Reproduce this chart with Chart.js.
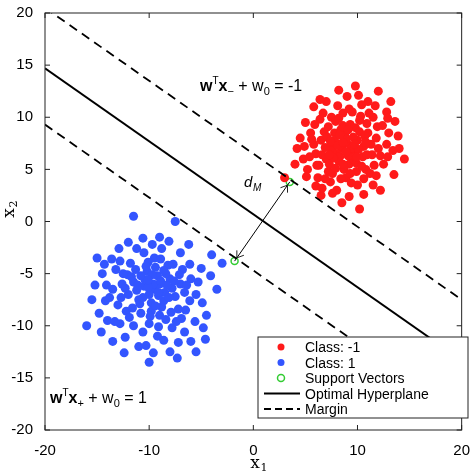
<!DOCTYPE html>
<html>
<head>
<script src="https://cdn.jsdelivr.net/npm/chart.js@4/dist/chart.umd.min.js"></script>
<style>
  body { margin: 0; background: #fff; }
  #wrap { width: 474px; height: 474px; }
</style>
</head>
<body>
<div id="wrap"><canvas id="svm"></canvas></div>
<script>
// data
var redPts = [[8.5,7],[9,7.5],[8,6.5],[7.5,7.2],[9.5,6.8],[8.8,8.2],[8.2,5.8],[7,6],[10,7.8],[9.2,5.5],[7.8,8.5],[10.5,6.2],[6.5,7.8],[8.6,9.2],[9.8,9],[7.2,4.8],[11,8.5],[6,6.5],[10.8,5],[8.9,4.2],[5.5,8.5],[12,7],[7.5,10],[9.5,10.5],[11.5,10],[6.2,4.2],[12.5,5.5],[4.8,6],[10,3.5],[8,3],[13,8.5],[5,9.5],[11,11.5],[7,11.5],[9,12],[12.8,10.5],[14,7],[4,5.5],[6.5,2.5],[11.5,3.5],[3,4.2],[13.5,4.5],[14.5,6],[10.2,1.2],[8.5,1.8],[5.8,11],[12,12.5],[9.8,13],[4.5,8],[13.2,11.5],[7.8,7.8],[8.3,6.2],[9.4,7],[7.6,6.8],[10.2,8.6],[8.4,8.8],[9.6,6],[7.3,5.5],[6.8,8.6],[10.6,7.2],[11.4,6.4],[6.6,6.4],[8.7,5],[9.9,4.8],[7.9,9.6],[10.9,9.4],[11.8,8],[5.8,7.4],[12.4,9.2],[6.4,9.8],[7.4,3.8],[11.2,4.6],[5.2,5],[13.6,9.6],[9.2,10.8],[6,3.4],[12.2,3],[4.2,7],[10.4,11.2],[8.1,7.3],[9.1,6.3],[8.9,7.9],[7.7,6.1],[10.1,6.9],
  [6.9,7.1],[7.1,8.1],[6.3,5.4],[6.9,4.1],[7.6,4.6],[8.4,4.1],[9.4,3.7],[10.6,4.1],[11.6,5.4],[12.2,6.3],[12.8,7.4],[12.9,6.2],[11.9,9.1],[11.1,10.4],[10.3,10.1],[8.6,10.4],[8.1,11.1],[6.7,10.4],[5.9,9.3],[5.6,7.9],[5.4,6.2],[6.1,5.4],[9.9,5.6],[10.9,6.4],[11.3,7.4],[10.7,8.2],[9.6,8.1],[7.2,9.1],[8.2,9.9],[9.3,9.3],[10.2,9.7],[8.9,6.7],[7.9,5.1],[9.3,4.6],[10.4,5.3],[11.8,4.4],[6.6,3.2],[7.6,2.7],[9.2,2.4],[10.6,2.6],[11.7,11.1],[10.1,12.1],[8.2,12.6],[6.4,11.7],[4.9,7.2],[5.1,4.3],[13.4,6.8],[13.9,8.2],[12.9,9.9],[7.3,6.4],[8.6,7.6],[9.7,7.4],[9.9,6.2],[8.6,5.5],[7.4,7.7],[10.8,7.6],[8.3,8.3],[9.1,8.8]];
var bluePts = [[-9.5,-6.5],[-9,-6],[-10,-7],[-10.5,-6.2],[-8.5,-6.8],[-9.2,-5.2],[-9.8,-7.8],[-11,-7.5],[-8,-5.5],[-8.8,-8.2],[-11.5,-5.8],[-7.5,-7.2],[-10.2,-4.8],[-9,-9],[-12,-7],[-7,-6],[-10.8,-8.8],[-8.2,-4.2],[-12.5,-5],[-6.5,-8.5],[-9.5,-3.5],[-11.5,-10],[-7.8,-10.2],[-13,-8],[-6,-5.5],[-10.5,-3],[-12.8,-3.8],[-13.5,-6.5],[-5.5,-7],[-9.2,-11],[-7,-3],[-14,-9.5],[-11,-12],[-8,-12.5],[-14.5,-5],[-5,-4.5],[-4.5,-9],[-12,-2],[-9,-1.5],[-15.5,-7.5],[-3.5,-6.5],[-6,-11.5],[-13.5,-11.5],[-10,-13.5],[-15,-3.5],[-7.5,0],[-11.5,0.5],[-3,-4],[-16,-10],[-5.5,-12.5],[-9.6,-6],[-10.4,-5.6],[-8.6,-7.6],[-9.8,-8.6],[-11.2,-6.6],[-7.8,-6.4],[-10.8,-5.2],[-8.4,-5],[-9.4,-4.4],[-12.2,-8.6],[-7.2,-8.4],[-6.6,-6.8],[-12.6,-6],[-10,-9.8],[-8.4,-9.4],[-11.8,-4],[-6.8,-4.6],[-13.2,-4.6],[-8.8,-2.6],[-4.8,-10.2],[-14.2,-7.6],[-10.6,-1.6],[-6.2,-2.2],[-12.8,-9.8],[-7.2,-11.6],[-4,-3.2],[-14.8,-8.8],[-9.1,-7.1],[-10.1,-6.3],[-8.9,-5.7],[-9.7,-5.1],
  [-11.1,-6.1],[-10.9,-7.9],[-12.7,-7.3],[-12.1,-5.1],[-11.3,-4.6],[-10.1,-3.9],[-8.9,-3.6],[-7.7,-4.1],[-7.1,-5.1],[-6.4,-6.1],[-6.1,-7.6],[-6.9,-9.3],[-7.9,-8.7],[-9.1,-10.1],[-10.6,-10.6],[-11.9,-9.2],[-13.3,-9.6],[-13.8,-7.3],[-14.1,-6.1],[-13.6,-3.6],[-11.2,-2.6],[-9.7,-2.2],[-8.1,-1.9],[-6.1,-4.1],[-5.3,-5.8],[-4.9,-7.8],[-5.6,-9.6],[-6.6,-10.6],[-8.6,-11.4],[-10.3,-11.9],[-12.3,-11.1],[-14.6,-10.6],[-15.2,-6.1],[-14.3,-4.1],[-12.9,-2.6],[-9.6,-12.6],[-7.3,-13.1],[-4.1,-5.2],[-4.6,-11.3],[-12.4,-12.6],[-10.1,-5.6],[-9.1,-6.8],[-8.1,-7.3],[-8.3,-6.1],[-10.6,-7.3],[-11.6,-8.3],[-9.9,-9.1],[-9.4,-8.1],[-7.4,-9.6],[-8.6,-4.7],[-10.3,-4.3],[-11.7,-5.3],[-12.3,-6.4],[-7.6,-5.7]];
var supportVecs = [[3.5,3.8],[-1.8,-3.8]];
var hyperplane = [[-20,14.7],[20,-13.3]];
var marginTop = [[-20,20.5],[20,-7.5]];
var marginBot = [[-20,9.3],[20,-18.7]];
var xTicks = [-20,-10,0,10,20];
var yTicks = [-20,-15,-10,-5,0,5,10,15,20];

var FONT = "'Liberation Sans', Arial, sans-serif";
function pts(a) { return a.map(p => ({x: p[0], y: p[1]})); }

var overlay = {
  id: 'overlay',
  afterDraw(chart) {
    var c = chart.ctx, a = chart.chartArea, xs = chart.scales.x, ys = chart.scales.y;
    c.save();
    // box + inward ticks
    c.strokeStyle = '#222'; c.lineWidth = 1;
    c.strokeRect(a.left, a.top, a.right - a.left, a.bottom - a.top);
    xTicks.forEach(v => {
      var px = xs.getPixelForValue(v);
      c.beginPath(); c.moveTo(px, a.bottom); c.lineTo(px, a.bottom - 5);
      c.moveTo(px, a.top); c.lineTo(px, a.top + 5); c.stroke();
    });
    yTicks.forEach(v => {
      var py = ys.getPixelForValue(v);
      c.beginPath(); c.moveTo(a.left, py); c.lineTo(a.left + 5, py);
      c.moveTo(a.right, py); c.lineTo(a.right - 5, py); c.stroke();
    });
    // arrow heads between support vectors
    var p1 = {x: xs.getPixelForValue(supportVecs[0][0]), y: ys.getPixelForValue(supportVecs[0][1])};
    var p2 = {x: xs.getPixelForValue(supportVecs[1][0]), y: ys.getPixelForValue(supportVecs[1][1])};
    [[p1, p2], [p2, p1]].forEach(function (pr) {
      var ang = Math.atan2(pr[0].y - pr[1].y, pr[0].x - pr[1].x);
      c.beginPath();
      c.moveTo(pr[0].x - 4 * Math.cos(ang), pr[0].y - 4 * Math.sin(ang));
      c.lineTo(pr[0].x - 11 * Math.cos(ang - 0.4), pr[0].y - 11 * Math.sin(ang - 0.4));
      c.moveTo(pr[0].x - 4 * Math.cos(ang), pr[0].y - 4 * Math.sin(ang));
      c.lineTo(pr[0].x - 11 * Math.cos(ang + 0.4), pr[0].y - 11 * Math.sin(ang + 0.4));
      c.stroke();
    });
    // texts
    c.fillStyle = '#000'; c.textBaseline = 'alphabetic';
    function eq(x, y, sub, rhs) {
      c.font = 'bold 16px ' + FONT; c.fillText('w', x, y); x += c.measureText('w').width;
      c.font = '10px ' + FONT; c.fillText('T', x, y - 7); x += c.measureText('T').width;
      c.font = 'bold 16px ' + FONT; c.fillText('x', x, y); x += c.measureText('x').width;
      c.font = '11px ' + FONT; c.fillText(sub, x, y + 4); x += c.measureText(sub).width;
      c.font = '16px ' + FONT; c.fillText(' + w', x, y); x += c.measureText(' + w').width;
      c.font = '11px ' + FONT; c.fillText('0', x, y + 4); x += c.measureText('0').width;
      c.font = '16px ' + FONT; c.fillText(' = ' + rhs, x, y);
    }
    eq(200, 91, '\u2212', '-1');
    eq(50, 403, '+', '1');
    c.font = 'italic 15px ' + FONT; c.fillText('d', 244, 187);
    c.font = 'italic 10px ' + FONT; c.fillText('M', 253, 191);
    // axis titles
    c.font = '17px "DejaVu Serif", serif'; c.textAlign = 'center';
    c.fillText('x', 255, 468); c.font = '11px "DejaVu Serif", serif'; c.fillText('1', 264, 471);
    c.save(); c.translate(14, 213); c.rotate(-Math.PI / 2);
    c.font = '17px "DejaVu Serif", serif'; c.fillText('x', 0, 0);
    c.font = '11px "DejaVu Serif", serif'; c.fillText('2', 9, 3); c.restore();
    // legend
    c.textAlign = 'left';
    var lx = 258, ly = 337, lw = 210, lh = 81;
    c.fillStyle = '#fff'; c.fillRect(lx, ly, lw, lh);
    c.strokeStyle = '#222'; c.lineWidth = 1; c.strokeRect(lx, ly, lw, lh);
    var items = [['Class: -1', 'red'], ['Class: 1', 'blue'], ['Support Vectors', 'sv'], ['Optimal Hyperplane', 'solid'], ['Margin', 'dash']];
    c.font = '14px ' + FONT;
    items.forEach(function (it, i) {
      var yy = ly + 10 + i * 15.5, mx = lx + 23;
      c.setLineDash([]);
      if (it[1] === 'red' || it[1] === 'blue') {
        c.fillStyle = it[1] === 'red' ? '#ff1a1a' : '#3355ff';
        c.beginPath(); c.arc(mx, yy, 3.5, 0, 2 * Math.PI); c.fill();
      } else if (it[1] === 'sv') {
        c.strokeStyle = '#33cc33'; c.lineWidth = 1.5;
        c.beginPath(); c.arc(mx, yy, 3.5, 0, 2 * Math.PI); c.stroke();
      } else {
        c.strokeStyle = '#000'; c.lineWidth = 1.8;
        if (it[1] === 'dash') c.setLineDash([7, 4]);
        c.beginPath(); c.moveTo(lx + 6, yy); c.lineTo(lx + 42, yy); c.stroke();
      }
      c.fillStyle = '#000'; c.fillText(it[0], lx + 47, yy + 5);
    });
    c.restore();
  }
};

new Chart(document.getElementById('svm'), {
  type: 'scatter',
  data: {
    datasets: [
      {data: pts(marginTop), type: 'line', borderColor: '#000', borderWidth: 1.8, borderDash: [9, 6], pointRadius: 0, fill: false},
      {data: pts(marginBot), type: 'line', borderColor: '#000', borderWidth: 1.8, borderDash: [9, 6], pointRadius: 0, fill: false},
      {data: pts(hyperplane), type: 'line', borderColor: '#000', borderWidth: 2, pointRadius: 0, fill: false},
      {data: pts(redPts), backgroundColor: '#ff1a1a', borderWidth: 0, pointRadius: 4.5},
      {data: pts(bluePts), backgroundColor: '#3355ff', borderWidth: 0, pointRadius: 4.5},
      {data: pts(supportVecs), type: 'line', borderColor: '#000', borderWidth: 1, pointRadius: 0, fill: false},
      {data: pts(supportVecs), backgroundColor: 'rgba(0,0,0,0)', borderColor: '#33cc33', borderWidth: 1.5, pointRadius: 3.5}
    ]
  },
  options: {
    responsive: true, maintainAspectRatio: false, animation: false,
    layout: {padding: {top: 5, right: 6, left: 0, bottom: 0}},
    plugins: {legend: {display: false}, tooltip: {enabled: false}},
    scales: {
      x: {
        type: 'linear', min: -20, max: 20,
        afterBuildTicks: s => { s.ticks = xTicks.map(v => ({value: v})); },
        afterFit: s => { s.height = 44; },
        grid: {display: false}, border: {display: false},
        ticks: {color: '#000', font: {family: FONT, size: 15}, padding: 4}
      },
      y: {
        type: 'linear', min: -20, max: 20,
        afterBuildTicks: s => { s.ticks = yTicks.map(v => ({value: v})); },
        afterFit: s => { s.width = 45; },
        grid: {display: false}, border: {display: false},
        ticks: {color: '#000', font: {family: FONT, size: 15}, padding: 4}
      }
    }
  },
  plugins: [overlay]
});
</script>
</body>
</html>
